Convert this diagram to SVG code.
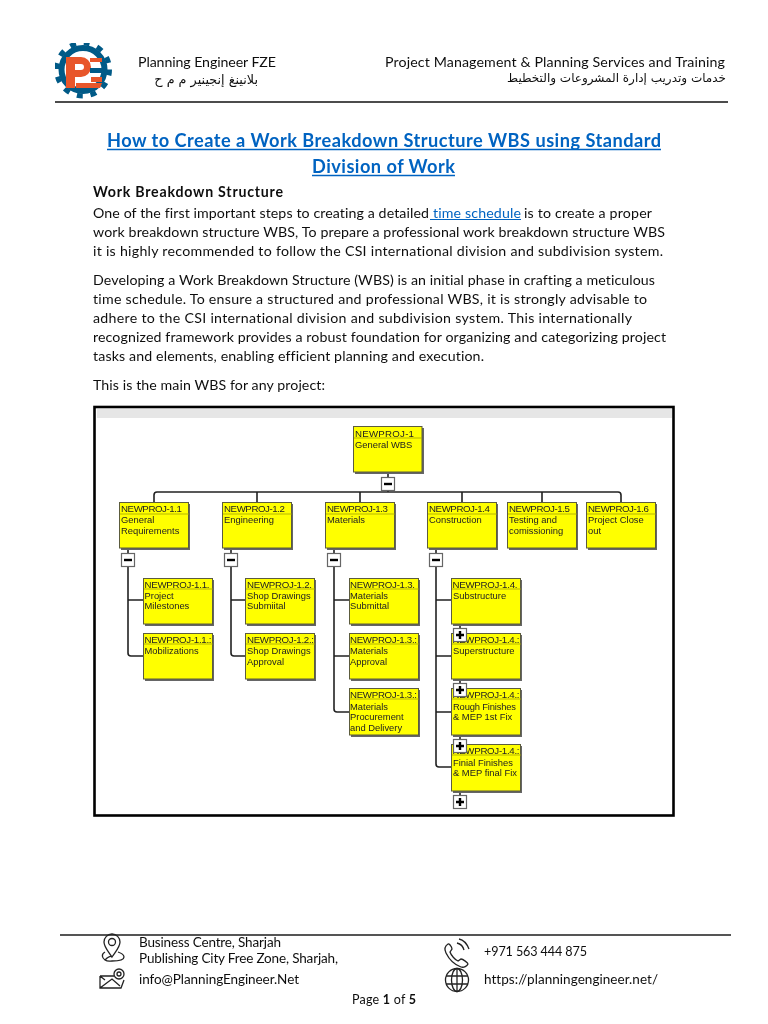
<svg xmlns="http://www.w3.org/2000/svg" width="768" height="1024" viewBox="0 0 768 1024">
<style>
text{font-family:"Lato","Liberation Sans",sans-serif;fill:#111;font-size:14.2px;font-variant-ligatures:none}
.b{font-weight:700}
.l{fill:#0563c1}
.ar{font-family:"DejaVu Sans",sans-serif;font-size:12px}
.t{font-size:18.2px;font-weight:700;fill:#0563c1}
.f{font-size:13.500px}
.n text{font-family:"Liberation Sans",Arial,sans-serif;font-size:9.4px;fill:#222}
.n text.k{font-size:9.700px}
.s{fill:#666}
.y{fill:#ff0;stroke:#5c5c3c;stroke-width:1}
.h{stroke:#a5a500;stroke-width:.8}
.c{fill:none;stroke:#222;stroke-width:1.6}
.box{fill:#fff;stroke:#666;stroke-width:1.2}
.g{stroke:#000;stroke-width:2.4}
.i{fill:none;stroke:#222;stroke-width:1.3}
</style>
<defs><filter id="soft" x="0" y="0" width="100%" height="100%"><feGaussianBlur stdDeviation="0.3"/></filter></defs>
<rect width="768" height="1024" fill="#fff"/>
<g filter="url(#soft)">
<g id="logo">
<circle cx="83" cy="69.500" r="26.500" fill="none" stroke="#005a87" stroke-width="5" stroke-dasharray="6 7.870"/>
<circle cx="83" cy="69.500" r="21.500" fill="#fff" stroke="#005a87" stroke-width="6"/>
<path fill-rule="evenodd" d="M66 57h15a10 10 0 0 1 0 20h-6v11h-9zM75 64v6h6a3 3 0 0 0 0-6z" fill="#e8562a"/>
<path d="M90 58h12v4h-12zM91 77h11v5h-11zM76 83h26l-2 5h-24z" fill="#e8562a"/>
<path d="M90 68h13v5h-13z" fill="#005a87"/>
</g>
<g id="header">
<text x="138" y="67" textLength="138">Planning Engineer FZE</text>
<text class="ar" x="258" y="84" text-anchor="end" style="font-size:12.800px">بلانينغ إنجينير م م ح</text>
<text x="385" y="67" textLength="340">Project Management &amp; Planning Services and Training</text>
<text class="ar" x="726" y="82" text-anchor="end">خدمات وتدريب إدارة المشروعات والتخطيط</text>
<path d="M55 102H728" stroke="#111" stroke-width="1.300"/>
</g>
<g id="body">
<text class="t" x="107" y="146.500" textLength="554">How to Create a Work Breakdown Structure WBS using Standard</text>
<path d="M107 149.500H661M312 175.500H455" stroke="#0563c1" stroke-width="1.300"/>
<text class="t" x="312" y="172.500" textLength="143">Division of Work</text>
<text class="b" x="93" y="197" textLength="190">Work Breakdown Structure</text>
<text x="93" y="217.500" textLength="336">One of the first important steps to creating a detailed</text>
<text class="l" x="433" y="217.500" textLength="88">time schedule</text>
<path d="M430 219.500H521" stroke="#0563c1" stroke-width="1"/>
<text x="524" y="217.500" textLength="128">is to create a proper</text>
<text x="93" y="236.500" textLength="572">work breakdown structure WBS, To prepare a professional work breakdown structure WBS</text>
<text x="93" y="255.500" textLength="570">it is highly recommended to follow the CSI international division and subdivision system.</text>
<text x="93" y="285" textLength="562">Developing a Work Breakdown Structure (WBS) is an initial phase in crafting a meticulous</text>
<text x="93" y="304" textLength="554">time schedule. To ensure a structured and professional WBS, it is strongly advisable to</text>
<text x="93" y="323" textLength="539">adhere to the CSI international division and subdivision system. This internationally</text>
<text x="93" y="342" textLength="573">recognized framework provides a robust foundation for organizing and categorizing project</text>
<text x="93" y="361" textLength="391">tasks and elements, enabling efficient planning and execution.</text>
<text x="93" y="390" textLength="232">This is the main WBS for any project:</text>
</g>
<g id="frame">
<rect x="94.500" y="407" width="579" height="408.500" fill="#fff" stroke="#000" stroke-width="2.600"/>
<rect x="97" y="409" width="575" height="9" fill="#e6e6e6"/>
</g>
<g id="connectors">
<path class="c" d="M388 472V492M154 502V495a3 3 0 0 1 3-3H618a3 3 0 0 1 3 3V502M257 502V492M360 502V492M462 502V492M542 502V492"/>
<path class="c" d="M128 548V653a3 3 0 0 0 3 3H143M128 600H143"/>
<path class="c" d="M231 548V653a3 3 0 0 0 3 3H245M231 600H245"/>
<path class="c" d="M334 548V709a3 3 0 0 0 3 3H349M334 600H349M334 656H349"/>
<path class="c" d="M436 548V764a3 3 0 0 0 3 3H451M436 600H451M436 656H451M436 712H451"/>
<path class="c" d="M460 624V628M460 679V683M460 735V739M460 791V795"/>
</g>
<g class="n" id="n1"><rect class="s" x="355" y="428" width="69" height="46"/><rect class="y" x="353.500" y="426.500" width="68.500" height="45.500"/><path class="h" d="M354 438H422"/><text class="k" x="355" y="436.500" textLength="59">NEWPROJ-1</text><text x="355" y="447.500">General WBS</text></g>
<g class="n" id="n1-1"><rect class="s" x="121" y="504" width="69" height="46"/><rect class="y" x="119.500" y="502.500" width="69" height="45.500"/><path class="h" d="M120 514H189"/><text class="k" x="121" y="512" textLength="61">NEWPROJ-1.1</text><text x="121" y="523">General</text><text x="121" y="533.500">Requirements</text></g>
<g class="n" id="n1-2"><rect class="s" x="224" y="504" width="69" height="46"/><rect class="y" x="222.500" y="502.500" width="69" height="45.500"/><path class="h" d="M223 514H292"/><text class="k" x="224" y="512" textLength="61">NEWPROJ-1.2</text><text x="224" y="523">Engineering</text></g>
<g class="n" id="n1-3"><rect class="s" x="327" y="504" width="69" height="46"/><rect class="y" x="325.500" y="502.500" width="69" height="45.500"/><path class="h" d="M326 514H395"/><text class="k" x="327" y="512" textLength="61">NEWPROJ-1.3</text><text x="327" y="523">Materials</text></g>
<g class="n" id="n1-4"><rect class="s" x="429" y="504" width="69" height="46"/><rect class="y" x="427.500" y="502.500" width="69" height="45.500"/><path class="h" d="M428 514H497"/><text class="k" x="429" y="512" textLength="61">NEWPROJ-1.4</text><text x="429" y="523">Construction</text></g>
<g class="n" id="n1-5"><rect class="s" x="509" y="504" width="69" height="46"/><rect class="y" x="507.500" y="502.500" width="69" height="45.500"/><path class="h" d="M508 514H577"/><text class="k" x="509" y="512" textLength="61">NEWPROJ-1.5</text><text x="509" y="523">Testing and</text><text x="509" y="533.500">comissioning</text></g>
<g class="n" id="n1-6"><rect class="s" x="588" y="504" width="69" height="46"/><rect class="y" x="586.500" y="502.500" width="69" height="45.500"/><path class="h" d="M587 514H656"/><text class="k" x="588" y="512" textLength="61">NEWPROJ-1.6</text><text x="588" y="523">Project Close</text><text x="588" y="533.500">out</text></g>

<g class="n" id="n1-1-1"><rect class="s" x="145" y="580" width="69" height="46"/><rect class="y" x="143.500" y="578.500" width="69" height="45.500"/><path class="h" d="M144 589H213"/><text class="k" x="144.500" y="587.500" textLength="65">NEWPROJ-1.1.</text><text x="144.500" y="598.500">Project</text><text x="144.500" y="609">Milestones</text></g>
<g class="n" id="n1-1-2"><rect class="s" x="145" y="635" width="69" height="46"/><rect class="y" x="143.500" y="633.500" width="69" height="45.500"/><path class="h" d="M144 644H213"/><text class="k" x="144.500" y="642.500" textLength="67">NEWPROJ-1.1.:</text><text x="144.500" y="654">Mobilizations</text></g>
<g class="n" id="n1-2-1"><rect class="s" x="247" y="580" width="69" height="46"/><rect class="y" x="245.500" y="578.500" width="69" height="45.500"/><path class="h" d="M246 589H315"/><text class="k" x="247" y="587.500" textLength="65">NEWPROJ-1.2.</text><text x="247" y="598.500">Shop Drawings</text><text x="247" y="609">Submiital</text></g>
<g class="n" id="n1-2-2"><rect class="s" x="247" y="635" width="69" height="46"/><rect class="y" x="245.500" y="633.500" width="69" height="45.500"/><path class="h" d="M246 644H315"/><text class="k" x="247" y="642.500" textLength="67">NEWPROJ-1.2.:</text><text x="247" y="654">Shop Drawings</text><text x="247" y="665">Approval</text></g>
<g class="n" id="n1-3-1"><rect class="s" x="351" y="580" width="69" height="46"/><rect class="y" x="349.500" y="578.500" width="69" height="45.500"/><path class="h" d="M350 589H419"/><text class="k" x="350" y="587.500" textLength="65">NEWPROJ-1.3.</text><text x="350" y="598.500">Materials</text><text x="350" y="609">Submittal</text></g>
<g class="n" id="n1-3-2"><rect class="s" x="351" y="635" width="69" height="46"/><rect class="y" x="349.500" y="633.500" width="69" height="45.500"/><path class="h" d="M350 644H419"/><text class="k" x="350" y="642.500" textLength="67">NEWPROJ-1.3.:</text><text x="350" y="654">Materials</text><text x="350" y="665">Approval</text></g>
<g class="n" id="n1-3-3"><rect class="s" x="351" y="690" width="69" height="47"/><rect class="y" x="349.500" y="688.500" width="69" height="46.500"/><path class="h" d="M350 699H419"/><text class="k" x="350" y="697.500" textLength="67">NEWPROJ-1.3.:</text><text x="350" y="709.500">Materials</text><text x="350" y="720">Procurement</text><text x="350" y="731">and Delivery</text></g>
<g class="n" id="n1-4-1"><rect class="s" x="453" y="580" width="69" height="46"/><rect class="y" x="451.500" y="578.500" width="69" height="45.500"/><path class="h" d="M452 589H521"/><text class="k" x="452.500" y="587.500" textLength="65">NEWPROJ-1.4.</text><text x="453" y="598.500">Substructure</text></g>
<g class="n" id="n1-4-2"><rect class="s" x="453" y="635" width="69" height="46"/><rect class="y" x="451.500" y="633.500" width="69" height="45.500"/><path class="h" d="M452 644H521"/><text class="k" x="452.500" y="642.500" textLength="67">NEWPROJ-1.4.:</text><text x="453" y="654">Superstructure</text></g>
<g class="n" id="n1-4-3"><rect class="s" x="453" y="690" width="69" height="47"/><rect class="y" x="451.500" y="688.500" width="69" height="46.500"/><path class="h" d="M452 699H521"/><text class="k" x="452.500" y="697.500" textLength="67">NEWPROJ-1.4.:</text><text x="453" y="709.500" textLength="63">Rough Finishes</text><text x="453" y="720">&amp; MEP  1st Fix</text></g>
<g class="n" id="n1-4-4"><rect class="s" x="453" y="746" width="69" height="47"/><rect class="y" x="451.500" y="744.500" width="69" height="46.500"/><path class="h" d="M452 755H521"/><text class="k" x="452.500" y="753.500" textLength="67">NEWPROJ-1.4.:</text><text x="453" y="765.500">Finial Finishes</text><text x="453" y="776" textLength="64">&amp; MEP final Fix</text></g>

<g id="toggles">
<rect class="box" x="381.500" y="477.500" width="13" height="13"/><path class="g" d="M384 484H392"/>
<rect class="box" x="121.500" y="553.500" width="13" height="13"/><path class="g" d="M124 560H132"/>
<rect class="box" x="224.500" y="553.500" width="13" height="13"/><path class="g" d="M227 560H235"/>
<rect class="box" x="327.500" y="553.500" width="13" height="13"/><path class="g" d="M330 560H338"/>
<rect class="box" x="429.500" y="553.500" width="13" height="13"/><path class="g" d="M432 560H440"/>
<rect class="box" x="453.500" y="628.500" width="13" height="13"/><path class="g" d="M456 635H464M460 631V639"/>
<rect class="box" x="453.500" y="683.500" width="13" height="13"/><path class="g" d="M456 690H464M460 686V694"/>
<rect class="box" x="453.500" y="739.500" width="13" height="13"/><path class="g" d="M456 746H464M460 742V750"/>
<rect class="box" x="453.500" y="795.500" width="13" height="13"/><path class="g" d="M456 802H464M460 798V806"/>
</g>
<g id="footer">
<path d="M60 935H731" stroke="#555" stroke-width="1.800"/>
<text class="f" x="139" y="947" textLength="142">Business Centre, Sharjah</text>
<text class="f" x="139" y="963" textLength="199">Publishing City Free Zone, Sharjah,</text>
<text class="f" x="139" y="984" textLength="160">info@PlanningEngineer.Net</text>
<text x="484" y="956" style="font-size:12.600px" textLength="103">+971 563 444 875</text>
<text class="f" x="484" y="984" textLength="174">https://planningengineer.net/</text>
<text x="352" y="1004" style="font-size:12.500px" textLength="64">Page <tspan class="b">1</tspan> of <tspan class="b">5</tspan></text>
<g class="i">
<path d="M112 957c-4-6-8-10-8-15a8 8 0 0 1 16 0c0 5-4 9-8 15z"/><circle cx="112" cy="942" r="3.500"/>
<path d="M105 952c-4 2-3 6 0 8s5 1 7 1 12 0 12-4c0-2-3-4-6-5M105 960c4-4 6-4 7-3"/>
<path d="M100 976v12h21l3-8M100 976h14M100 988l12-9 8 7M100 976l5 4"/><circle cx="119" cy="974" r="5"/><circle cx="119" cy="974" r="2"/>
<path d="M448 944c-3 2-4 5-2 9 3 6 9 12 15 14 3 1 6-1 7-3 0-1-5-5-7-5l-3 2c-3-1-7-6-8-9l2-3c0-2-3-6-4-5z"/>
<path d="M457 943c4 1 6 3 7 7M459 939c5 1 8 5 10 10"/>
<circle cx="457" cy="980" r="11.500"/><ellipse cx="457" cy="980" rx="5.500" ry="11.500"/><path d="M457 968.500V991.500M446 976H468M446 984H468"/>
</g>
</g>
</g>
</svg>
